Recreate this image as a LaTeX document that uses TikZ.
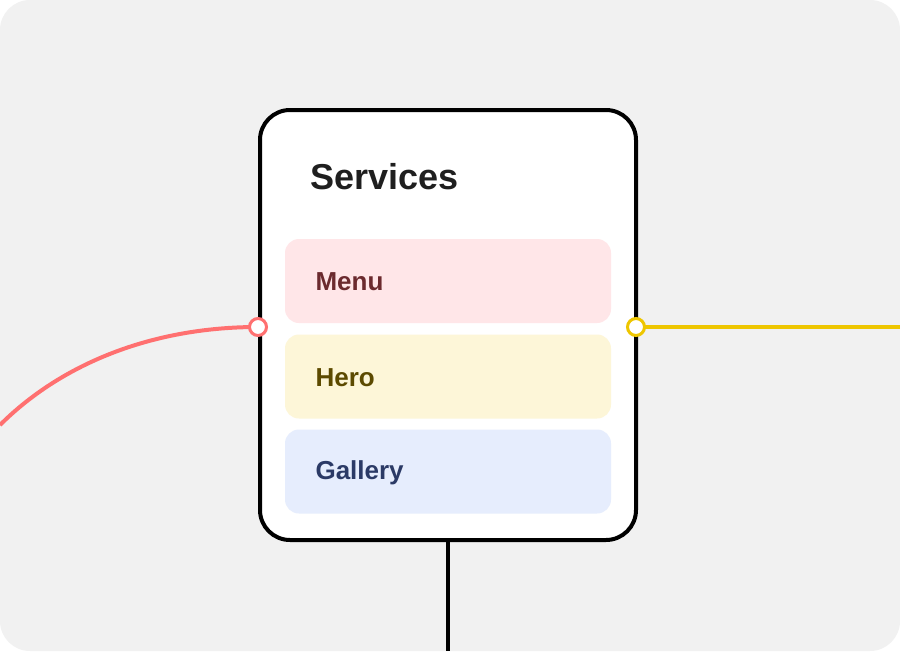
\documentclass[tikz,border=0pt]{standalone}
\usepackage{fontspec}
\setmainfont{Liberation Sans}
\definecolor{bg}{HTML}{F1F1F1}
\definecolor{redl}{HTML}{FF7070}
\definecolor{yell}{HTML}{EEC600}
\definecolor{menuf}{HTML}{FFE6E8}
\definecolor{menut}{HTML}{6B2A2E}
\definecolor{herof}{HTML}{FDF6D8}
\definecolor{herot}{HTML}{5C4A00}
\definecolor{galf}{HTML}{E6EDFD}
\definecolor{galt}{HTML}{2B3A66}
\tikzset{
 item/.style={rounded corners=14pt, minimum width=326pt, minimum height=84pt, inner sep=0pt},
 itemtext/.style={anchor=west, font=\bfseries\fontsize{26}{30}\selectfont},
 port/.style={circle, draw=#1, fill=white, line width=3pt, minimum size=17pt, inner sep=0pt},
 wire/.style={line width=4pt}
}
\begin{document}
\begin{tikzpicture}[x=1pt,y=-1pt]
\useasboundingbox (0,0) rectangle (900,651);
\fill[white] (0,0) rectangle (900,651);
\fill[bg, rounded corners=30pt] (0,0) rectangle (900,651);
\coordinate (leftend) at (0,425);
\coordinate (rightend) at (900,327);
\coordinate (bottomend) at (448,651);
\coordinate (cardbot) at (448,540);
\draw[wire, redl] (258,327) .. controls (150,327) and (60,365) .. (leftend);
\draw[wire, yell] (636,327) -- (rightend);
\draw[wire, black] (cardbot) -- (bottomend);
\node[draw=black, fill=white, line width=4pt, rounded corners=30pt, minimum width=376pt, minimum height=430pt, inner sep=0pt] (card) at (448,325) {};
\node[anchor=west, font=\bfseries\fontsize{36}{40}\selectfont, text=black!88] (title) at (307,177) {Services};
\node[item, fill=menuf] (menu) at (448,281) {};
\node[itemtext, text=menut] (menut) at (312,282) {Menu};
\node[item, fill=herof] (hero) at (448,376.5) {};
\node[itemtext, text=herot] (herot) at (312,378) {Hero};
\node[item, fill=galf] (gal) at (448,471.5) {};
\node[itemtext, text=galt] (galt) at (312,473) {Gallery};
\node[port=redl] (pl) at (258,327) {};
\node[port=yell] (pr) at (636,327) {};
\end{tikzpicture}
\end{document}
